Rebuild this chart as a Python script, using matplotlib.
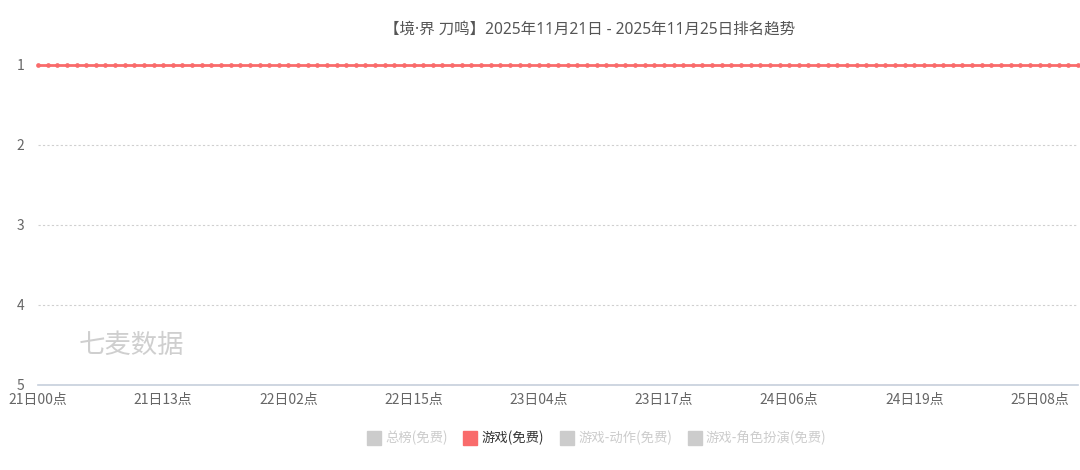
"""
Rank trend chart for one app over five days (hourly rank in one list).
"""

import matplotlib
matplotlib.use("Agg")
import matplotlib.pyplot as plt
from matplotlib.lines import Line2D

plt.rcParams["font.family"] = ["Noto Sans CJK SC", "DejaVu Sans"]

title = "【境·界 刀鸣】2025年11月21日 - 2025年11月25日排名趋势"

# hourly rank from 21日00点 to 25日12点
ranks = [
    1, 1, 1, 1, 1, 1, 1, 1, 1, 1, 1, 1, 1, 1, 1, 1, 1, 1, 1, 1, 1, 1, 1, 1,
    1, 1, 1, 1, 1, 1, 1, 1, 1, 1, 1, 1, 1, 1, 1, 1, 1, 1, 1, 1, 1, 1, 1, 1,
    1, 1, 1, 1, 1, 1, 1, 1, 1, 1, 1, 1, 1, 1, 1, 1, 1, 1, 1, 1, 1, 1, 1, 1,
    1, 1, 1, 1, 1, 1, 1, 1, 1, 1, 1, 1, 1, 1, 1, 1, 1, 1, 1, 1, 1, 1, 1, 1,
    1, 1, 1, 1, 1, 1, 1, 1, 1, 1, 1, 1, 1,
]
tick_labels = ["21日00点", "21日13点", "22日02点", "22日15点", "23日04点",
               "23日17点", "24日06点", "24日19点", "25日08点"]
legend_labels = ["总榜(免费)", "游戏(免费)", "游戏-动作(免费)", "游戏-角色扮演(免费)"]
legend_active = [False, True, False, False]

line_colour = "#f96b6b"
muted = "#cccccc"

fig = plt.figure(figsize=(10.8, 4.7), dpi=100)
ax = fig.add_axes([0.0352, 0.181, 0.963, 0.681])

hours = list(range(len(ranks)))
ax.plot(hours, ranks, color=line_colour, linewidth=2, marker="o",
        markersize=3.4, markerfacecolor=line_colour, markeredgewidth=0,
        zorder=3, clip_on=False)

ax.set_xlim(0, len(ranks) - 1)
ax.set_ylim(5, 1)
ax.set_yticks([1, 2, 3, 4, 5])
ax.set_xticks(hours[::13])
ax.set_xticklabels(tick_labels)

# dotted horizontal grid
ax.grid(axis="y", color="#d0d0d0", linestyle=(0, (2, 2)), linewidth=0.8)
for side in ["top", "right", "left"]:
    ax.spines[side].set_visible(False)
ax.spines["bottom"].set_color("#c6cfdc")
ax.spines["bottom"].set_linewidth(1.2)
ax.tick_params(axis="both", length=0, colors="#666666", labelsize=10)
ax.tick_params(axis="y", pad=10)
ax.tick_params(axis="x", pad=6)

fig.text(0.546, 0.938, title, ha="center", va="center", fontsize=11.2,
         color="#555555", family=["Noto Sans", "Noto Sans CJK SC"])

# watermark
ax.text(0.039, 0.124, "七麦数据", transform=ax.transAxes, fontsize=19,
        color="#cfcfcf", ha="left", va="center")

handles = [Line2D([], [], linestyle="none", marker="s", markersize=10,
                  markerfacecolor=line_colour if on else muted,
                  markeredgecolor=line_colour if on else muted)
           for on in legend_active]
leg = fig.legend(handles, legend_labels, loc="center", ncol=4,
                 bbox_to_anchor=(0.552, 0.068), frameon=False, fontsize=9.6,
                 handletextpad=0.25, columnspacing=1.1, handlelength=1.2)
for txt, on in zip(leg.get_texts(), legend_active):
    txt.set_color("#333333" if on else muted)

fig.savefig("out.png", dpi=100)
